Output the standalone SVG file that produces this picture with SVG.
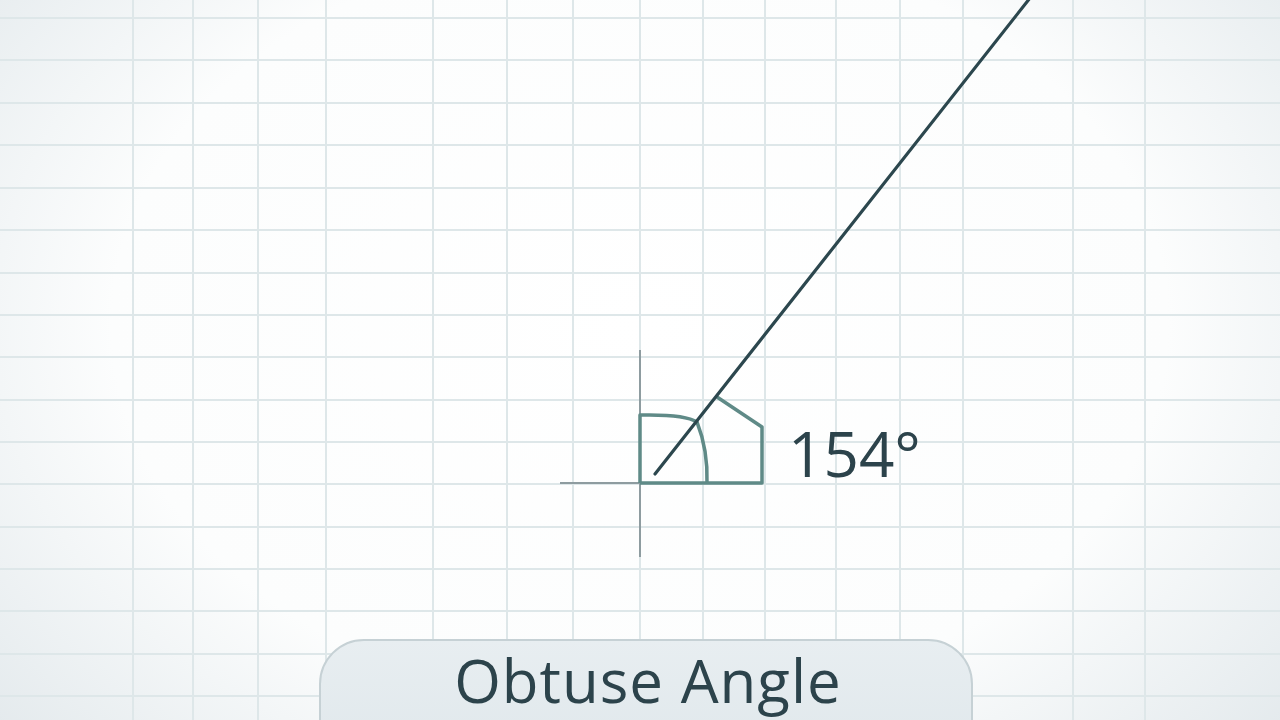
<svg xmlns="http://www.w3.org/2000/svg" width="1280" height="720" viewBox="0 0 1280 720">
  <defs>
    <radialGradient id="bg" cx="50%" cy="45%" r="75%" gradientTransform="translate(0.5 0.45) scale(1 1.3) translate(-0.5 -0.45)">
      <stop offset="0" stop-color="#ffffff"/>
      <stop offset="0.55" stop-color="#fcfdfd"/>
      <stop offset="1" stop-color="#dbe3e7"/>
    </radialGradient>
    <linearGradient id="pill" x1="0" y1="0" x2="0" y2="1">
      <stop offset="0" stop-color="#e8eef1"/>
      <stop offset="1" stop-color="#dfe7eb"/>
    </linearGradient>
  </defs>
  <style>
    .grid line { stroke: #dee7e9; stroke-width: 2; }
    .axis { stroke: #8e9ca0; stroke-width: 2; fill: none; }
    .mark { stroke: #5f8a87; stroke-width: 3.5; fill: none; stroke-linejoin: round; }
    .ray { stroke: #2c474e; stroke-width: 3.2; stroke-linecap: round; }
    .lbl { font-family: "Open Sans", "Noto Sans", sans-serif; fill: #2c434b; }
  </style>
  <rect width="1280" height="720" fill="url(#bg)"/>
  <g class="grid">
    <line x1="0" y1="18" x2="1280" y2="18"/>
    <line x1="0" y1="60" x2="1280" y2="60"/>
    <line x1="0" y1="103" x2="1280" y2="103"/>
    <line x1="0" y1="145" x2="1280" y2="145"/>
    <line x1="0" y1="188" x2="1280" y2="188"/>
    <line x1="0" y1="230" x2="1280" y2="230"/>
    <line x1="0" y1="273" x2="1280" y2="273"/>
    <line x1="0" y1="315" x2="1280" y2="315"/>
    <line x1="0" y1="357" x2="1280" y2="357"/>
    <line x1="0" y1="400" x2="1280" y2="400"/>
    <line x1="0" y1="442" x2="1280" y2="442"/>
    <line x1="0" y1="484" x2="1280" y2="484"/>
    <line x1="0" y1="527" x2="1280" y2="527"/>
    <line x1="0" y1="569" x2="1280" y2="569"/>
    <line x1="0" y1="611" x2="1280" y2="611"/>
    <line x1="0" y1="654" x2="1280" y2="654"/>
    <line x1="0" y1="696" x2="1280" y2="696"/>
    <line x1="133" y1="0" x2="133" y2="720"/>
    <line x1="193" y1="0" x2="193" y2="720"/>
    <line x1="258" y1="0" x2="258" y2="720"/>
    <line x1="326" y1="0" x2="326" y2="720"/>
    <line x1="433" y1="0" x2="433" y2="720"/>
    <line x1="507" y1="0" x2="507" y2="720"/>
    <line x1="573" y1="0" x2="573" y2="720"/>
    <line x1="640" y1="0" x2="640" y2="720"/>
    <line x1="703" y1="0" x2="703" y2="720"/>
    <line x1="765" y1="0" x2="765" y2="720"/>
    <line x1="836" y1="0" x2="836" y2="720"/>
    <line x1="900" y1="0" x2="900" y2="720"/>
    <line x1="963" y1="0" x2="963" y2="720"/>
    <line x1="1073" y1="0" x2="1073" y2="720"/>
    <line x1="1145" y1="0" x2="1145" y2="720"/>
  </g>
  <g id="axes">
    <line class="axis" x1="640" y1="350" x2="640" y2="557"/>
    <line class="axis" x1="560" y1="483" x2="763" y2="483" stroke="#7e9a98"/>
  </g>
  <g id="angle-marks">
    <path class="mark" d="M640,483 V415 Q685,414 697,422 Q708,450 707,483"/>
    <path class="mark" d="M717,397 L762,427 L762,483 L640,483"/>
  </g>
  <g id="connectors">
    <line class="ray" x1="655" y1="474" x2="1030" y2="-2"/>
  </g>
  <g id="angle-label">
    <text class="lbl" x="788" y="477" font-size="62" font-weight="500">154°</text>
  </g>
  <g id="title">
    <rect x="320" y="640" width="652" height="130" rx="44" fill="url(#pill)" stroke="#c6d1d5" stroke-width="2"/>
    <text class="lbl" x="648" y="703" font-size="60" text-anchor="middle" letter-spacing="1">Obtuse Angle</text>
  </g>
</svg>
